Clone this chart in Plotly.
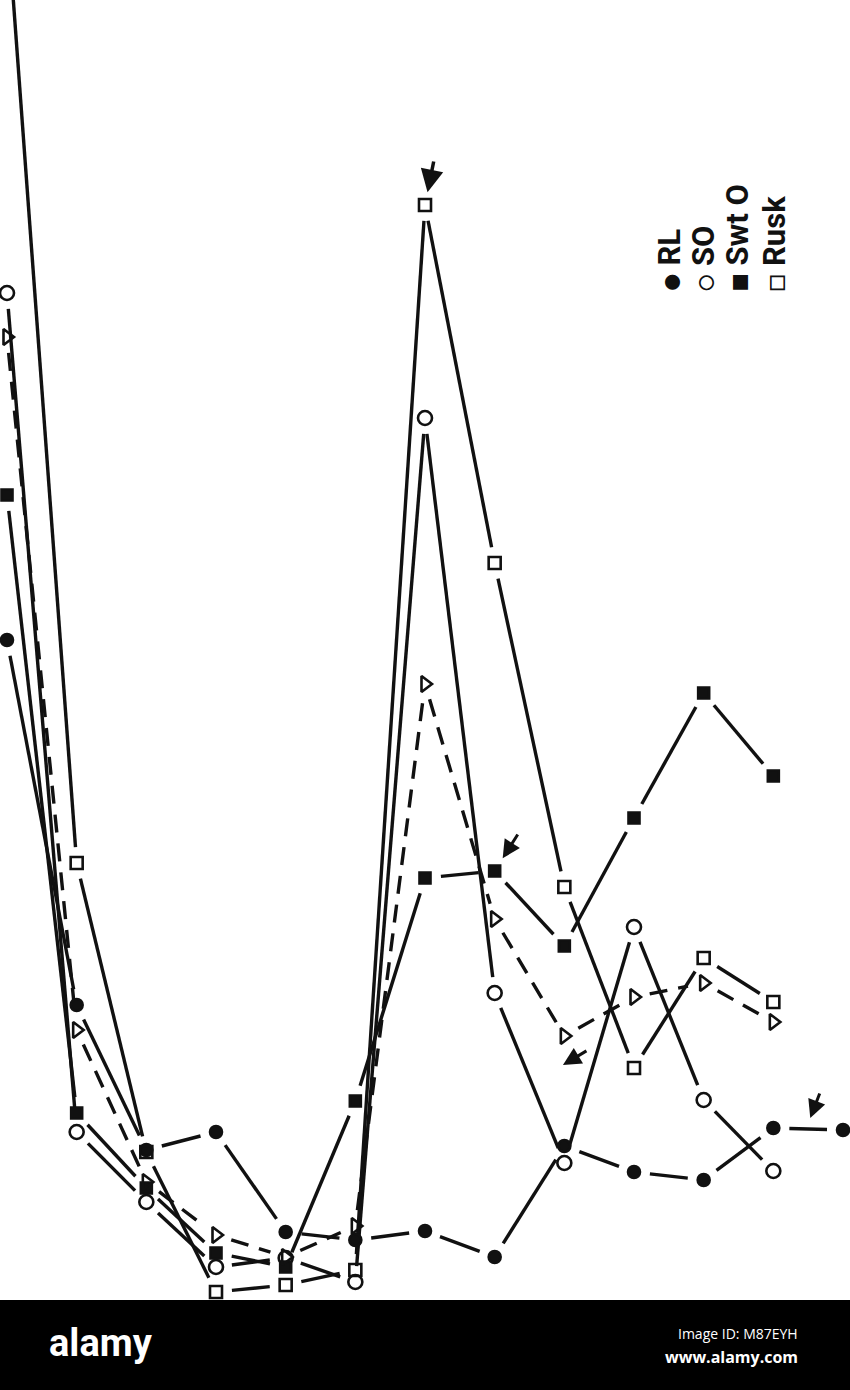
import math
import plotly.graph_objects as go

# ---- data (arbitrary units, larger = higher on the sheet) ----
x_pts = list(range(13))

rl    = [66.0, 29.5, 15.0, 16.8, 6.8, 6.0, 6.9, 4.3, 15.4, 12.8, 12.0, 17.2, 17.0]
so    = [100.7, 16.8, 9.8, 3.3, 4.2, 1.8, 88.2, 30.7, 13.7, 37.3, 20.0, 12.9]
swt_o = [80.5, 18.7, 11.2, 4.7, 3.3, 19.9, 42.2, 42.9, 35.4, 48.2, 60.7, 52.4]
rusk  = [138.6, 43.7, 14.8, 0.8, 1.5, 3.0, 109.5, 73.7, 41.3, 23.2, 34.2, 29.8]
tri   = [96.3, 27.0, 11.8, 6.5, 4.3, 7.4, 61.6, 38.1, 26.4, 30.3, 31.7, 27.8]

series = [
    # name, values, marker symbol, size, dash
    ("RL", rl, "circle", 12, "solid"),
    ("SO", so, "circle-open", 14, "solid"),
    ("Swt O", swt_o, "square", 11, "solid"),
    ("Rusk", rusk, "square-open", 12, "solid"),
    ("", tri, "triangle-right-open", 14, "18px,11px"),
]

legend_labels = ["RL", "SO", "Swt O", "Rusk"]
legend_symbols = ["●", "○", "■", "□"]

INK = "#111111"
W, H = 850, 1390
PLOT_H = 1300
X_LO, X_HI = -7 / 69.67, 12 + 7 / 69.67
Y_LO, Y_HI = 0, 130
PX_X = W / (X_HI - X_LO)          # pixels per x unit
PX_Y = PLOT_H / (Y_HI - Y_LO)     # pixels per y unit
GAP = 16                           # lines stop this many pixels short of a marker


def broken_line(xs, ys, gap=GAP):
    """Connect consecutive points, leaving a small gap at each marker."""
    out_x, out_y = [], []
    for i in range(len(ys) - 1):
        x0, y0, x1, y1 = xs[i], ys[i], xs[i + 1], ys[i + 1]
        length = math.hypot((x1 - x0) * PX_X, (y1 - y0) * PX_Y)
        if length <= 2 * gap:
            continue
        f = gap / length
        out_x += [x0 + (x1 - x0) * f, x1 - (x1 - x0) * f, None]
        out_y += [y0 + (y1 - y0) * f, y1 - (y1 - y0) * f, None]
    return out_x, out_y


fig = go.Figure()

# lines
for name, vals, sym, size, dash in series:
    lx, ly = broken_line(x_pts[:len(vals)], vals)
    fig.add_trace(go.Scatter(
        x=lx, y=ly, mode="lines", connectgaps=False,
        line=dict(color=INK, width=3.4, dash=dash),
        showlegend=False, hoverinfo="skip"))

# markers
for name, vals, sym, size, dash in series:
    fig.add_trace(go.Scatter(
        x=x_pts[:len(vals)], y=vals, mode="markers", name=name,
        marker=dict(symbol=sym, size=size, color=INK,
                    line=dict(color=INK, width=2.6)),
        cliponaxis=False, showlegend=False))

# rotated legend (reads bottom to top)
leg_x = [669, 703, 737, 774]
for lab, symb, px in zip(legend_labels, legend_symbols, leg_x):
    fig.add_annotation(
        xref="paper", yref="paper", x=px / W, y=(PLOT_H - 294) / PLOT_H,
        xanchor="center", yanchor="bottom", textangle=-90, showarrow=False,
        text='<span style="font-size:20px">' + symb + '</span>&nbsp;<b>' + lab + '</b>',
        font=dict(family="Roboto, Inter, DejaVu Sans", size=31, color=INK))

# hand-drawn arrows
fig.add_annotation(x=6, y=rusk[6], ax=9, ay=-45, showarrow=True, arrowhead=2,
                   arrowsize=1.3, arrowwidth=3.5, arrowcolor=INK, standoff=13, text="")
fig.add_annotation(x=7, y=swt_o[7], ax=24, ay=-38, showarrow=True, arrowhead=2,
                   arrowsize=1.2, arrowwidth=3, arrowcolor=INK, standoff=15, text="")
fig.add_annotation(x=7.98, y=23.5, ax=25, ay=-15, showarrow=True, arrowhead=2,
                   arrowsize=1.2, arrowwidth=3, arrowcolor=INK, standoff=0, text="")
fig.add_annotation(x=11.53, y=18.2, ax=10, ay=-26, showarrow=True, arrowhead=2,
                   arrowsize=1.2, arrowwidth=3, arrowcolor=INK, standoff=0, text="")

# stock-photo banner at the bottom
fig.add_shape(type="rect", xref="paper", yref="paper", x0=0, x1=1,
              y0=-(H - PLOT_H) / PLOT_H, y1=0, fillcolor="black", line=dict(width=0), layer="above")
fig.add_annotation(xref="paper", yref="paper", x=47 / W, y=-(1343 - PLOT_H) / PLOT_H,
                   xanchor="left", yanchor="middle", showarrow=False,
                   text="<b>alamy</b>",
                   font=dict(family="Roboto, DejaVu Sans", size=38, color="white"))
fig.add_annotation(xref="paper", yref="paper", x=800 / W, y=-(1333 - PLOT_H) / PLOT_H,
                   xanchor="right", yanchor="middle", showarrow=False,
                   text="Image ID: M87EYH",
                   font=dict(family="Open Sans", size=14, color="white"))
fig.add_annotation(xref="paper", yref="paper", x=800 / W, y=-(1357 - PLOT_H) / PLOT_H,
                   xanchor="right", yanchor="middle", showarrow=False,
                   text="<b>www.alamy.com</b>",
                   font=dict(family="Open Sans", size=16, color="white"))

fig.update_layout(
    width=W, height=H,
    margin=dict(l=0, r=0, t=0, b=H - PLOT_H, pad=0),
    paper_bgcolor="white", plot_bgcolor="white",
    xaxis=dict(range=[X_LO, X_HI], visible=False, fixedrange=True),
    yaxis=dict(range=[Y_LO, Y_HI], visible=False, fixedrange=True),
    showlegend=False,
)

fig.write_html("out.html", config={"displayModeBar": False},
               post_script="document.body.style.margin='0px';document.body.style.overflow='hidden';")
